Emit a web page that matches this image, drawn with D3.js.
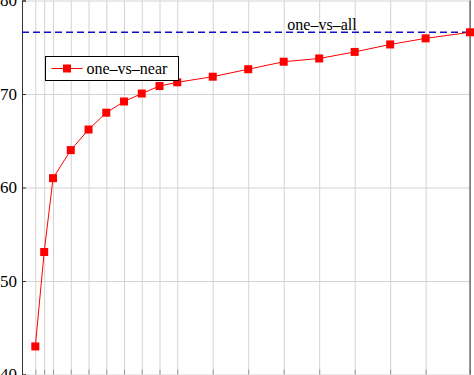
<!DOCTYPE html>
<html>
<head>
<meta charset="utf-8">
<script src="https://cdn.jsdelivr.net/npm/d3@7"></script>
<style>
  body { margin: 0; background: #fff; }
  svg { display: block; font-family: "Liberation Serif", "DejaVu Serif", serif; }
  .grid line { stroke: #d3d3d3; stroke-width: 1; }
  .grid path { display: none; }
</style>
</head>
<body>
<div id="chart"></div>
<script>
// data
const xValues = [1, 2, 3, 5, 7, 9, 11, 13, 15, 17, 21, 25, 29, 33, 37, 41, 45, 50];
const nearValues = [43.0, 53.1, 61.0, 64.0, 66.2, 68.0, 69.2, 70.05, 70.85, 71.25, 71.85, 72.65, 73.45, 73.8, 74.5, 75.3, 75.95, 76.6];
const allValue = 76.6;
const yTicks = [40, 50, 60, 70, 80];
const seriesNames = ['one\u2013vs\u2013near', 'one\u2013vs\u2013all'];

const W = 474, H = 375;
const LEFT = 22, RIGHT = 470, TOP = 0.5, BOTTOM = 374.5;

const svg = d3.select('#chart').append('svg')
    .attr('width', W)
    .attr('height', H);

const x = d3.scaleLinear().domain([-0.5, 50]).range([LEFT, RIGHT]);
const y = d3.scaleLinear().domain([40, 80]).range([BOTTOM, TOP]);

//vertical grid at each x value
svg.append('g')
    .attr('class', 'grid')
    .attr('transform', 'translate(0,' + BOTTOM + ')')
    .call(d3.axisBottom(x).tickValues(xValues).tickSize(-(BOTTOM - TOP)).tickFormat(''));

//horizontal grid
svg.append('g')
    .attr('class', 'grid')
    .attr('transform', 'translate(' + LEFT + ',0)')
    .call(d3.axisLeft(y).tickValues(yTicks).tickSize(-(RIGHT - LEFT)).tickFormat(''));

//bottom inward ticks
const xAxis = svg.append('g')
    .attr('transform', 'translate(0,' + BOTTOM + ')')
    .call(d3.axisBottom(x).tickValues(xValues).tickSize(-5).tickFormat(''));
xAxis.select('.domain').remove();
xAxis.selectAll('line').attr('stroke', '#999');

//left axis with labels
const yAxis = svg.append('g')
    .attr('transform', 'translate(' + LEFT + ',0)')
    .call(d3.axisLeft(y).tickValues(yTicks).tickSize(-4).tickPadding(5).tickFormat(d3.format('d')));
yAxis.select('.domain').attr('stroke', '#333');
yAxis.selectAll('line').attr('stroke', '#333');
yAxis.selectAll('text')
    .attr('font-family', '"Liberation Serif", serif')
    .attr('font-size', 17)
    .attr('fill', '#000');

//right frame
svg.append('line')
    .attr('x1', x(50)).attr('x2', x(50))
    .attr('y1', TOP).attr('y2', BOTTOM)
    .attr('stroke', '#333');

//one-vs-all reference line
svg.append('line')
    .attr('x1', LEFT).attr('x2', RIGHT)
    .attr('y1', y(allValue)).attr('y2', y(allValue))
    .attr('stroke', '#1010c8')
    .attr('stroke-width', 1.6)
    .attr('stroke-dasharray', '7,4');

svg.append('text')
    .attr('x', 322)
    .attr('y', y(allValue) - 2.5)
    .attr('text-anchor', 'middle')
    .attr('font-size', 16)
    .text(seriesNames[1]);

//one-vs-near line and markers
const pts = xValues.map((v, i) => [v, nearValues[i]]);
svg.append('path')
    .datum(pts)
    .attr('fill', 'none')
    .attr('stroke', '#ff0000')
    .attr('stroke-width', 1)
    .attr('d', d3.line().x(d => x(d[0])).y(d => y(d[1])));

const M = 8;
svg.selectAll('rect.mark')
    .data(pts)
    .enter()
    .append('rect')
    .attr('class', 'mark')
    .attr('x', d => x(d[0]) - M / 2)
    .attr('y', d => y(d[1]) - M / 2)
    .attr('width', M)
    .attr('height', M)
    .attr('fill', '#ff0000');

//legend
const lg = svg.append('g').attr('transform', 'translate(45.5,56.5)');
lg.append('rect')
    .attr('width', 133)
    .attr('height', 24)
    .attr('fill', '#fff')
    .attr('stroke', '#000');
lg.append('line')
    .attr('x1', 6).attr('x2', 37)
    .attr('y1', 12).attr('y2', 12)
    .attr('stroke', '#ff0000');
lg.append('rect')
    .attr('x', 21.5 - M / 2).attr('y', 12 - M / 2)
    .attr('width', M).attr('height', M)
    .attr('fill', '#ff0000');
lg.append('text')
    .attr('x', 41)
    .attr('y', 17)
    .attr('font-size', 16)
    .text(seriesNames[0]);
</script>
</body>
</html>
